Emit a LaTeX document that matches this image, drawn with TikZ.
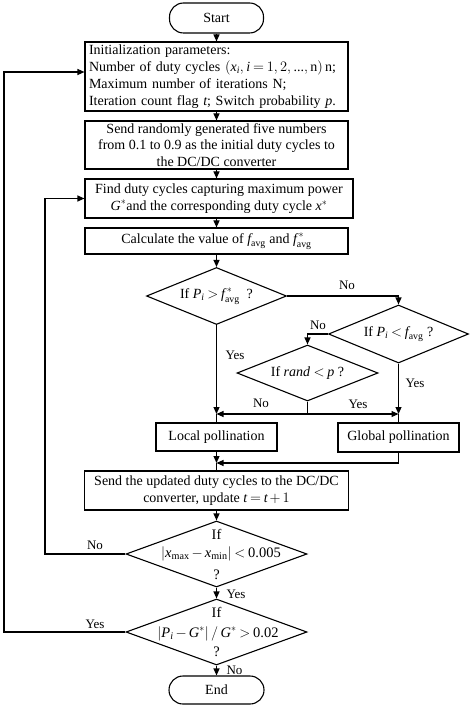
\documentclass[tikz,border=0pt]{standalone}
\usepackage{amsmath}
\usepackage{fontspec}
\setmainfont{Liberation Serif}
\usetikzlibrary{shapes.geometric,arrows.meta,calc}
\newcommand\iv[1]{\textit{#1}}
\thickmuskip=3.5mu\relax
\medmuskip=2.5mu\relax
\begin{document}
\begin{tikzpicture}[x=1pt,y=-1pt,
  font=\fontsize{14}{16.8}\selectfont,
  line width=1.1pt,
  >={Triangle[length=7pt,width=6pt]},
  box/.style={draw, rectangle, inner sep=0pt, align=center},
  term/.style={draw, rectangle, rounded corners=14pt, inner sep=0pt},
  dec/.style={draw, diamond, inner sep=0pt},
  ftxt/.style={inner sep=0pt, anchor=base, font=\fontsize{14.5}{16}\selectfont},
  small/.style={inner sep=0pt, anchor=base, text height=9pt, text depth=0pt, font=\fontsize{14.5}{16}\selectfont},
  lab/.style={font=\fontsize{13}{15}\selectfont, inner sep=0pt}]
\useasboundingbox (0,0) rectangle (474,711);

\node[term, minimum width=94pt, minimum height=30pt] (start) at (216.5,18) {Start};
\node[box, minimum width=263pt, minimum height=69pt, inner xsep=4pt, text width=255pt, align=left] (init) at (216.5,76.5)
  {Initialization parameters:\\
   Number of duty cycles $(\iv{x}_{\iv{i}},\iv{i}=1,2,\text{...},\text{n})\,$n;\\
   Maximum number of iterations N;\\
   Iteration count flag $\iv{t}$; Switch probability $\iv{p}$.};
\node[box, minimum width=263pt, minimum height=48pt] (box2) at (216.5,145)
  {Send randomly generated five numbers\\from 0.1 to 0.9 as the initial duty cycles to\\the DC/DC converter};
\node[box, minimum width=268pt, minimum height=39pt] (find) at (219,198.5)
  {Find duty cycles capturing maximum power\\$\iv{G}^{*}$and the corresponding duty cycle $\iv{x}^{*}$};
\node[box, minimum width=263pt, minimum height=26pt] (calc) at (216.5,241)
  {Calculate the value of $\iv{f}_{\text{avg}}$ and $\iv{f}^{\,*}_{\text{avg}}$};

\node[dec, minimum width=140pt, minimum height=57pt] (d1) at (216.5,296) {};
\node at (d1) {If $\iv{P}_{\iv{i}} > \iv{f}^{\,*}_{\text{avg}}$ \ ?};
\node[dec, minimum width=140pt, minimum height=58pt] (d2) at (398.5,334) {};
\node at (d2) {If $\iv{P}_{\iv{i}} < \iv{f}_{\text{avg}}$ ?};
\node[dec, minimum width=141pt, minimum height=56pt] (d3) at (307.5,373) {};
\node at (d3) {If \iv{rand} $<\iv{p}$ ?};

\node[box, minimum width=121pt, minimum height=28pt] (local) at (216.5,437) {Local pollination};
\node[box, minimum width=121pt, minimum height=29pt] (global) at (398.5,437.5) {Global pollination};

\node[box, minimum width=264pt, minimum height=39pt] (send) at (216.5,490.5)
  {Send the updated duty cycles to the DC/DC\\converter, update $\iv{t}=\iv{t}+1$};

\node[dec, minimum width=181pt, minimum height=66pt] (d4) at (216.5,554) {};
\node[small] at (216.5,539.5) {If};
\node[ftxt] at (221,557) {$\lvert\iv{x}_{\text{max}}-\iv{x}_{\text{min}}\rvert<\text{0.005}$};
\node[small] at (216.5,579) {?};
\node[dec, minimum width=181pt, minimum height=66pt] (d5) at (216.5,632) {};
\node[small] at (216.5,617.5) {If};
\node[ftxt] at (218,637) {$\lvert\iv{P}_{\iv{i}}-\iv{G}^{*}\rvert\,/\,\iv{G}^{*}>\text{0.02}$};
\node[small] at (216.5,656) {?};

\node[term, minimum width=95pt, minimum height=28pt] (end) at (216.5,690) {End};

% connectors
\draw[->] (start) -- (init);
\draw[->] (init) -- (box2);
\draw[->] (box2.south) -- (box2.south |- find.north);
\draw[->] (calc.north |- find.south) -- (calc.north);
\draw[->] (calc) -- (d1);
\draw[->] (d1.east) -| (d2.north);
\node[lab] at (347,285) {No};
\draw[->] (d2.west) -| (d3.north);
\node[lab] at (318,325) {No};

\coordinate (jl) at (216.5,414);
\coordinate (jr) at (398.5,414);
\coordinate (j) at (d3.south |- jl);
\draw[->] (d1.south) -- (jl);
\draw (jl) -- (local.north);
\draw[->] (d2.south) -- (jr);
\draw (jr) -- (global.north);
\draw (d3.south) -- (j);
\draw[->] (j) -- (jl);
\draw[->] (j) -- (jr);
\node[lab] at (235,355) {Yes};
\node[lab] at (415,383) {Yes};
\node[lab] at (261,403) {No};
\node[lab] at (358,404) {Yes};

\coordinate (jb) at (216.5,463);
\draw[->] (local.south) -- (jb);
\draw (jb) -- (send.north);
\draw[->] (global.south) |- (jb);

\draw[->] (send) -- (d4);
\draw[->] (d4) -- (d5);
\node[lab, anchor=west] at (226,594) {Yes};
\draw[->] (d5) -- (end);
\node[lab, anchor=west] at (226,670) {No};

\draw[->] (d4.west) -- (45,554) |- (find.west);
\node[lab] at (95,545) {No};
\draw[->] (d5.west) -- (4,632) |- (init.west |- 4,72);
\node[lab] at (95,624) {Yes};
\end{tikzpicture}
\end{document}
